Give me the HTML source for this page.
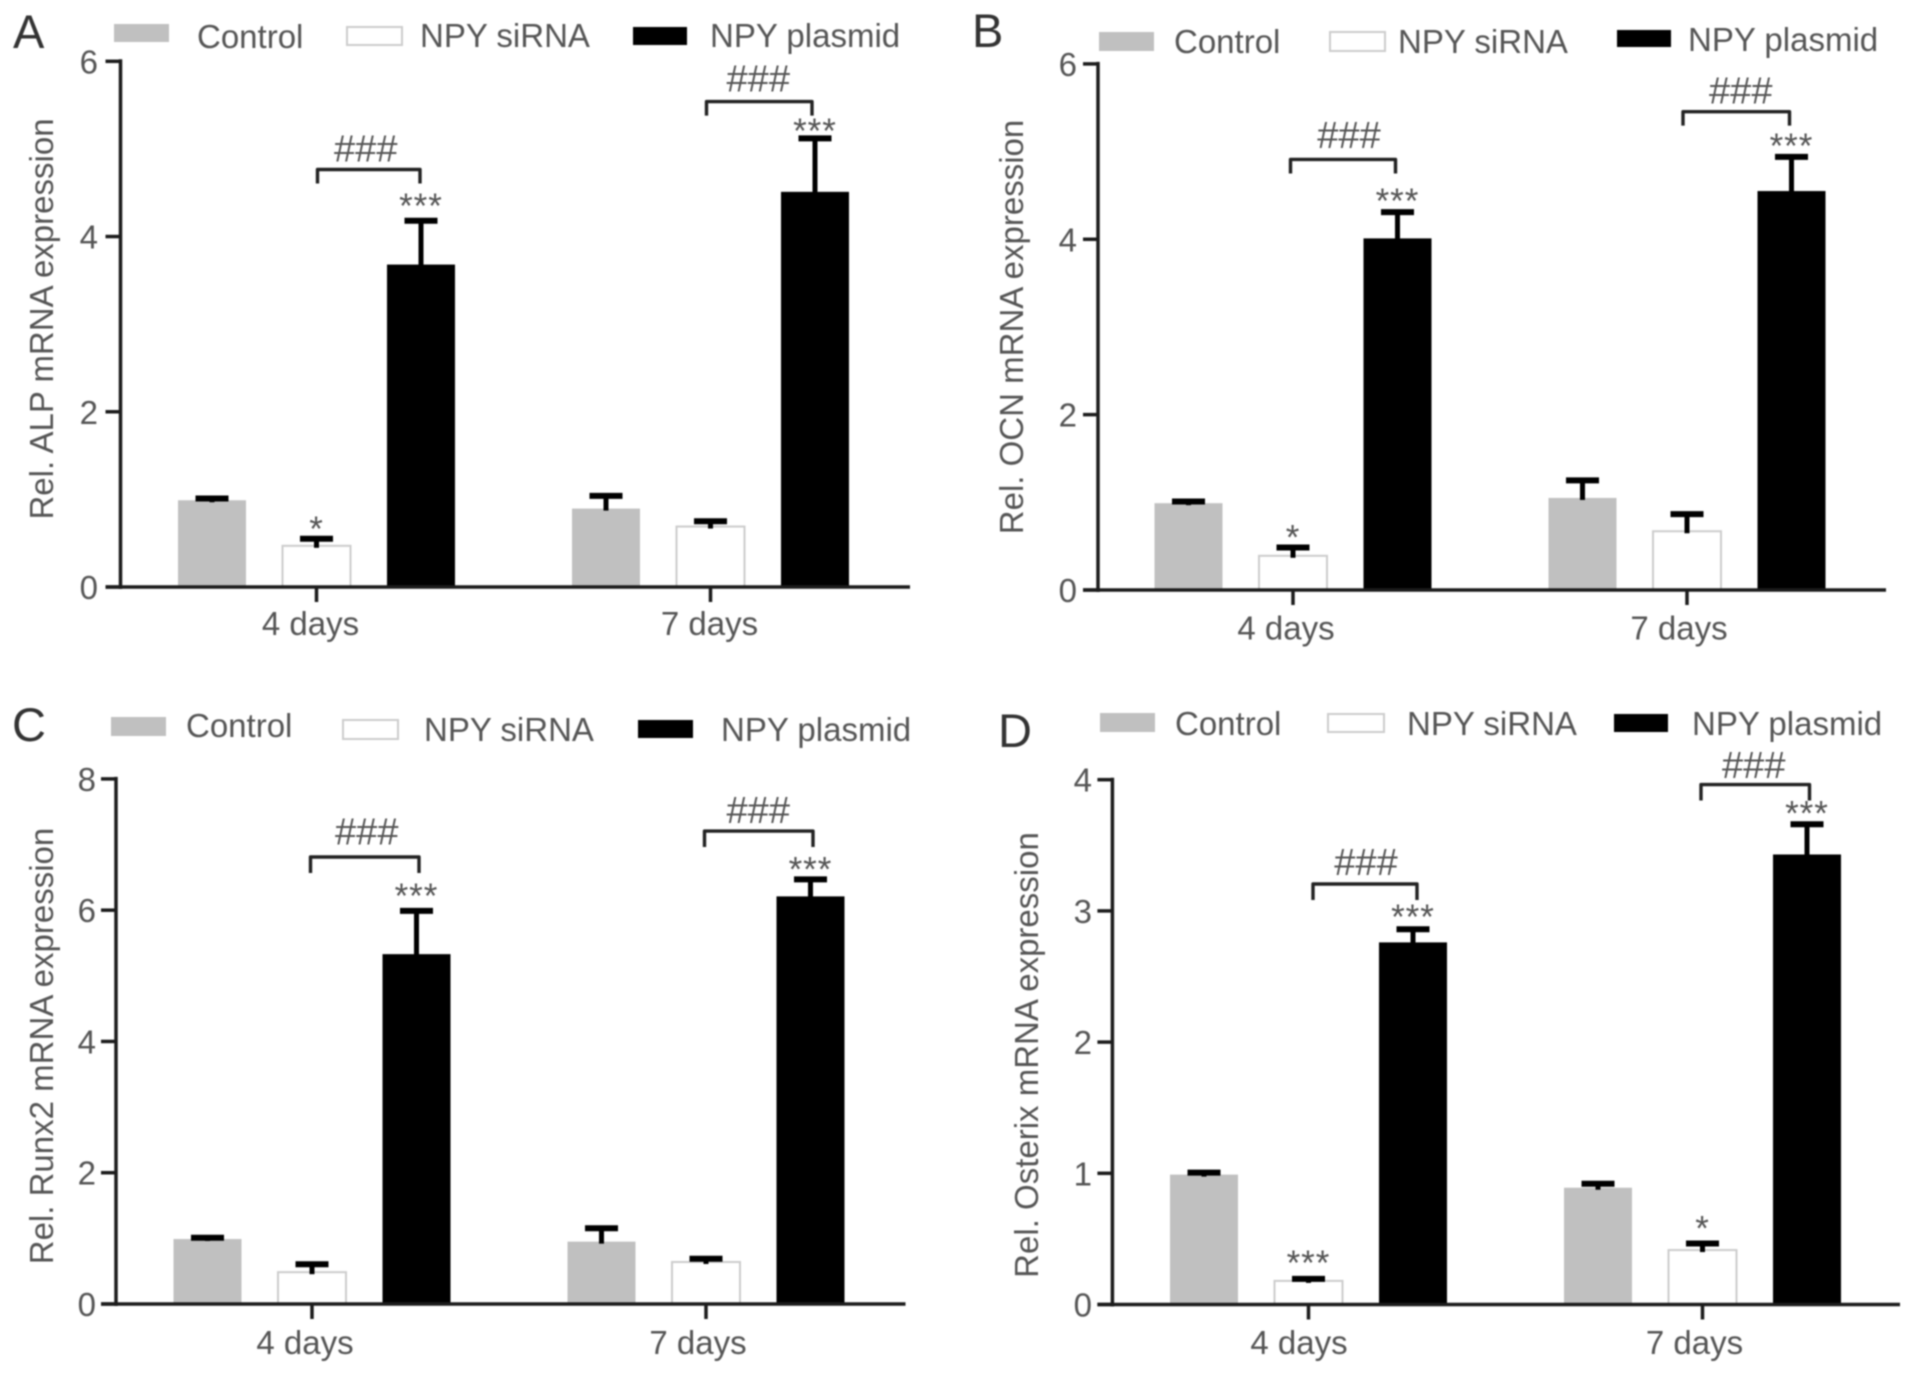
<!DOCTYPE html>
<html>
<head>
<meta charset="utf-8">
<title>Relative mRNA expression panels</title>
<style>
html,body{margin:0;padding:0;background:#fff;}
svg{display:block;filter:blur(0.7px);}
text{font-family:"Liberation Sans",sans-serif;fill:#555;font-size:33px;}
.panel-letter{font-size:47px;fill:#333;}
</style>
</head>
<body>
<svg id="figure" xmlns="http://www.w3.org/2000/svg" width="1913" height="1373" viewBox="0 0 1913 1373">
<rect width="1913" height="1373" fill="#fff"/>

<g>
<text class="panel-letter" x="13" y="48">A</text>
<text transform="translate(53,319) rotate(-90)" text-anchor="middle">Rel. ALP mRNA expression</text>
<g>
<rect x="114" y="24" width="55" height="18" fill="#c0c0c0"/>
<text x="197" y="48">Control</text>
<rect x="347" y="27" width="55" height="18" fill="#fff" stroke="#ccc" stroke-width="2"/>
<text x="420" y="47">NPY siRNA</text>
<rect x="633" y="27" width="54" height="18" fill="#000"/>
<text x="710" y="47">NPY plasmid</text>
</g>
</g>

<g>
<text class="panel-letter" x="972" y="47">B</text>
<text transform="translate(1023,327) rotate(-90)" text-anchor="middle">Rel. OCN mRNA expression</text>
<g>
<rect x="1099" y="32" width="55" height="19" fill="#c0c0c0"/>
<text x="1174" y="53">Control</text>
<rect x="1330" y="32" width="55" height="19" fill="#fff" stroke="#ccc" stroke-width="2"/>
<text x="1398" y="53">NPY siRNA</text>
<rect x="1617" y="30" width="54" height="17" fill="#000"/>
<text x="1688" y="51">NPY plasmid</text>
</g>
</g>

<g>
<text class="panel-letter" x="12" y="741">C</text>
<text transform="translate(53,1046) rotate(-90)" text-anchor="middle">Rel. Runx2 mRNA expression</text>
<g>
<rect x="111" y="717" width="55" height="19" fill="#c0c0c0"/>
<text x="186" y="737">Control</text>
<rect x="343" y="720" width="55" height="19" fill="#fff" stroke="#ccc" stroke-width="2"/>
<text x="424" y="741">NPY siRNA</text>
<rect x="638" y="720" width="55" height="18" fill="#000"/>
<text x="721" y="741">NPY plasmid</text>
</g>
</g>

<g>
<text class="panel-letter" x="998" y="747">D</text>
<text transform="translate(1038,1055) rotate(-90)" text-anchor="middle">Rel. Osterix mRNA expression</text>
<g>
<rect x="1100" y="713" width="55" height="19" fill="#c0c0c0"/>
<text x="1175" y="735">Control</text>
<rect x="1328" y="714" width="56" height="18" fill="#fff" stroke="#ccc" stroke-width="2"/>
<text x="1407" y="735">NPY siRNA</text>
<rect x="1614" y="714" width="54" height="18" fill="#000"/>
<text x="1692" y="735">NPY plasmid</text>
</g>
</g>
</svg>

<script>
// ---- data ----
var categories = ["4 days", "7 days"];
var seriesNames = ["control", "sirna", "plasmid"];

var alpMeans = [[0.99, 0.47, 3.68], [0.895, 0.69, 4.51]];
var alpErrors = [[0.02, 0.08, 0.50], [0.145, 0.06, 0.61]];
var alpTicks = [0, 2, 4, 6];
var alpStars = [["", "*", "***"], ["", "", "***"]];
var alpBrackets = [4.765, 5.54];

var ocnMeans = [[0.99, 0.39, 4.01], [1.05, 0.67, 4.55]];
var ocnErrors = [[0.02, 0.095, 0.30], [0.20, 0.195, 0.39]];
var ocnTicks = [0, 2, 4, 6];
var ocnStars = [["", "*", "***"], ["", "", "***"]];
var ocnBrackets = [4.91, 5.455];

var runxMeans = [[0.99, 0.485, 5.33], [0.95, 0.64, 6.21]];
var runxErrors = [[0.02, 0.12, 0.66], [0.205, 0.05, 0.26]];
var runxTicks = [0, 2, 4, 6, 8];
var runxStars = [["", "", "***"], ["", "", "***"]];
var runxBrackets = [6.81, 7.206];

var osxMeans = [[0.99, 0.18, 2.76], [0.89, 0.415, 3.43]];
var osxErrors = [[0.015, 0.015, 0.10], [0.03, 0.05, 0.23]];
var osxTicks = [0, 1, 2, 3, 4];
var osxStars = [["", "***", "***"], ["", "*", "***"]];
var osxBrackets = [3.205, 3.963];

var hashLabel = "###";

// ---- layout of each panel (geometry only, pixel nudges per group) ----
var panels = [
  {id:"a", means:alpMeans, errors:alpErrors, ticks:alpTicks, stars:alpStars, brackets:alpBrackets,
   axisX:120.5, xEnd:910, yTop:61.3, yBase:587, x0:316.5, labelRight:98, catBase:635,
   catShift:[-1.5,3.5], spanShift:[[0,0],[-5,-2]], hashShift:[[-2,-1],[0,-3]], legLen:14,
   starShift:[[0,0,-5],[0,0,2.5]]},
  {id:"b", means:ocnMeans, errors:ocnErrors, ticks:ocnTicks, stars:ocnStars, brackets:ocnBrackets,
   axisX:1098, xEnd:1886, yTop:63.9, yBase:590, x0:1293, labelRight:1077, catBase:639.5,
   catShift:[-2.5,-3.5], spanShift:[[-3.5,-1],[-5,-1]], hashShift:[[7,-4.5],[5.5,-1]], legLen:14,
   starShift:[[0,0,-1],[0,0,-1]]},
  {id:"c", means:runxMeans, errors:runxErrors, ticks:runxTicks, stars:runxStars, brackets:runxBrackets,
   axisX:116, xEnd:905.5, yTop:778.9, yBase:1304, x0:312, labelRight:96, catBase:1354,
   catShift:[-2.5,-3.5], spanShift:[[-2.5,3.5],[-2.5,3.5]], hashShift:[[3,-5.5],[0.5,-1]], legLen:16,
   starShift:[[0,0,-5],[0,0,0]]},
  {id:"d", means:osxMeans, errors:osxErrors, ticks:osxTicks, stars:osxStars, brackets:osxBrackets,
   axisX:1112.4, xEnd:1900, yTop:779.7, yBase:1304.5, x0:1308.5, labelRight:1092, catBase:1354,
   catShift:[-5,-3.5], spanShift:[[3.5,5],[-2.5,3.5]], hashShift:[[2,-2],[-0.5,0.5]], legLen:16,
   starShift:[[0,-6,-2.5],[0,-5,-1]]}
];

var GROUP_STEP = 394, SERIES_STEP = 104.5, BAR_W = 68, CAP_W = 33;
var INK = "#1c1c1c";
var SVGNS = "http://www.w3.org/2000/svg";
var fig = document.getElementById("figure");

function node(parent, tag, attrs, txt) {
  var el = document.createElementNS(SVGNS, tag);
  for (var k in attrs) { el.setAttribute(k, attrs[k]); }
  if (txt !== undefined) { el.textContent = txt; }
  parent.appendChild(el);
  return el;
}

function drawPanel(p) {
  function yScale(v) {
    var maxTick = p.ticks[p.ticks.length - 1];
    return p.yBase - v * (p.yBase - p.yTop) / maxTick;
  }
  function groupX(g) { return p.x0 + g * GROUP_STEP; }
  function barX(g, s) { return groupX(g) + (s - 1) * SERIES_STEP; }

  var root = node(fig, "g", {});
  
  

  p.means.forEach(function (row, g) {
    row.forEach(function (val, s) {
      var cx = barX(g, s);
      var top = yScale(val);
      var fills = ["#c0c0c0", "#ffffff", "#000000"];
      var bar = node(root, "rect", {
        x: cx - BAR_W / 2, y: top, width: BAR_W, height: p.yBase - top,
        fill: fills[s], stroke: s === 1 ? "#ccc" : "none", "stroke-width": 2
      });
      
      

      var capY = yScale(val + p.errors[g][s]);
      var stem = node(root, "line", {
        x1: cx, x2: cx, y1: capY, y2: top + 2, stroke: "#000", "stroke-width": 5
      });
      
      

      var cap = node(root, "line", {
        x1: cx - CAP_W / 2, x2: cx + CAP_W / 2, y1: capY, y2: capY, stroke: "#000", "stroke-width": 6
      });
      
      

      var mark = p.stars[g][s];
      if (mark) {
        var st = node(root, "text", {
          x: cx, y: capY + 2 + p.starShift[g][s], "text-anchor": "middle", "letter-spacing": 1
        }, mark);
        st.setAttribute('font-size', '35');
        st.style.fontSize = '35px';
        
        
      }
    });

    var by = yScale(p.brackets[g]);
    var left = barX(g, 1) + 1 + p.spanShift[g][0];
    var right = barX(g, 2) - 1 + p.spanShift[g][1];
    var br = node(root, "path", {
      d: "M" + left + " " + (by + p.legLen) + "V" + by + "H" + right + "V" + (by + p.legLen),
      fill: "none", stroke: "#222", "stroke-width": 3.4, "stroke-linejoin": "round"
    });
    
    

    var hash = node(root, "text", {
      x: (left + right) / 2 - 1 + p.hashShift[g][0], y: by - 7 + p.hashShift[g][1], "text-anchor": "middle"
    }, hashLabel);
    hash.style.fontSize = '38px';
    
    

    var tx = groupX(g);
    var xt = node(root, "line", {
      x1: tx, x2: tx, y1: p.yBase, y2: p.yBase + 15, stroke: INK, "stroke-width": 3.5
    });
    
    

    var cat = node(root, "text", {
      x: tx - 4.5 + p.catShift[g], y: p.catBase, "text-anchor": "middle"
    }, categories[g]);
    
    
  });

  var yAxis = node(root, "line", {
    x1: p.axisX, x2: p.axisX, y1: p.yTop - 2, y2: p.yBase + 2, stroke: INK, "stroke-width": 3.5
  });
  
  

  var xAxis = node(root, "line", {
    x1: p.axisX - 15, x2: p.xEnd, y1: p.yBase, y2: p.yBase, stroke: INK, "stroke-width": 3.5
  });
  
  

  p.ticks.forEach(function (t) {
    var ty = yScale(t);
    var tick = node(root, "line", {
      x1: p.axisX - 15, x2: p.axisX, y1: ty, y2: ty, stroke: INK, "stroke-width": 3.5
    });
    
    

    var lab = node(root, "text", {
      x: p.labelRight, y: ty + 12, "text-anchor": "end"
    }, String(t));
    
    
  });
}

panels.forEach(drawPanel);
</script>
</body>
</html>
